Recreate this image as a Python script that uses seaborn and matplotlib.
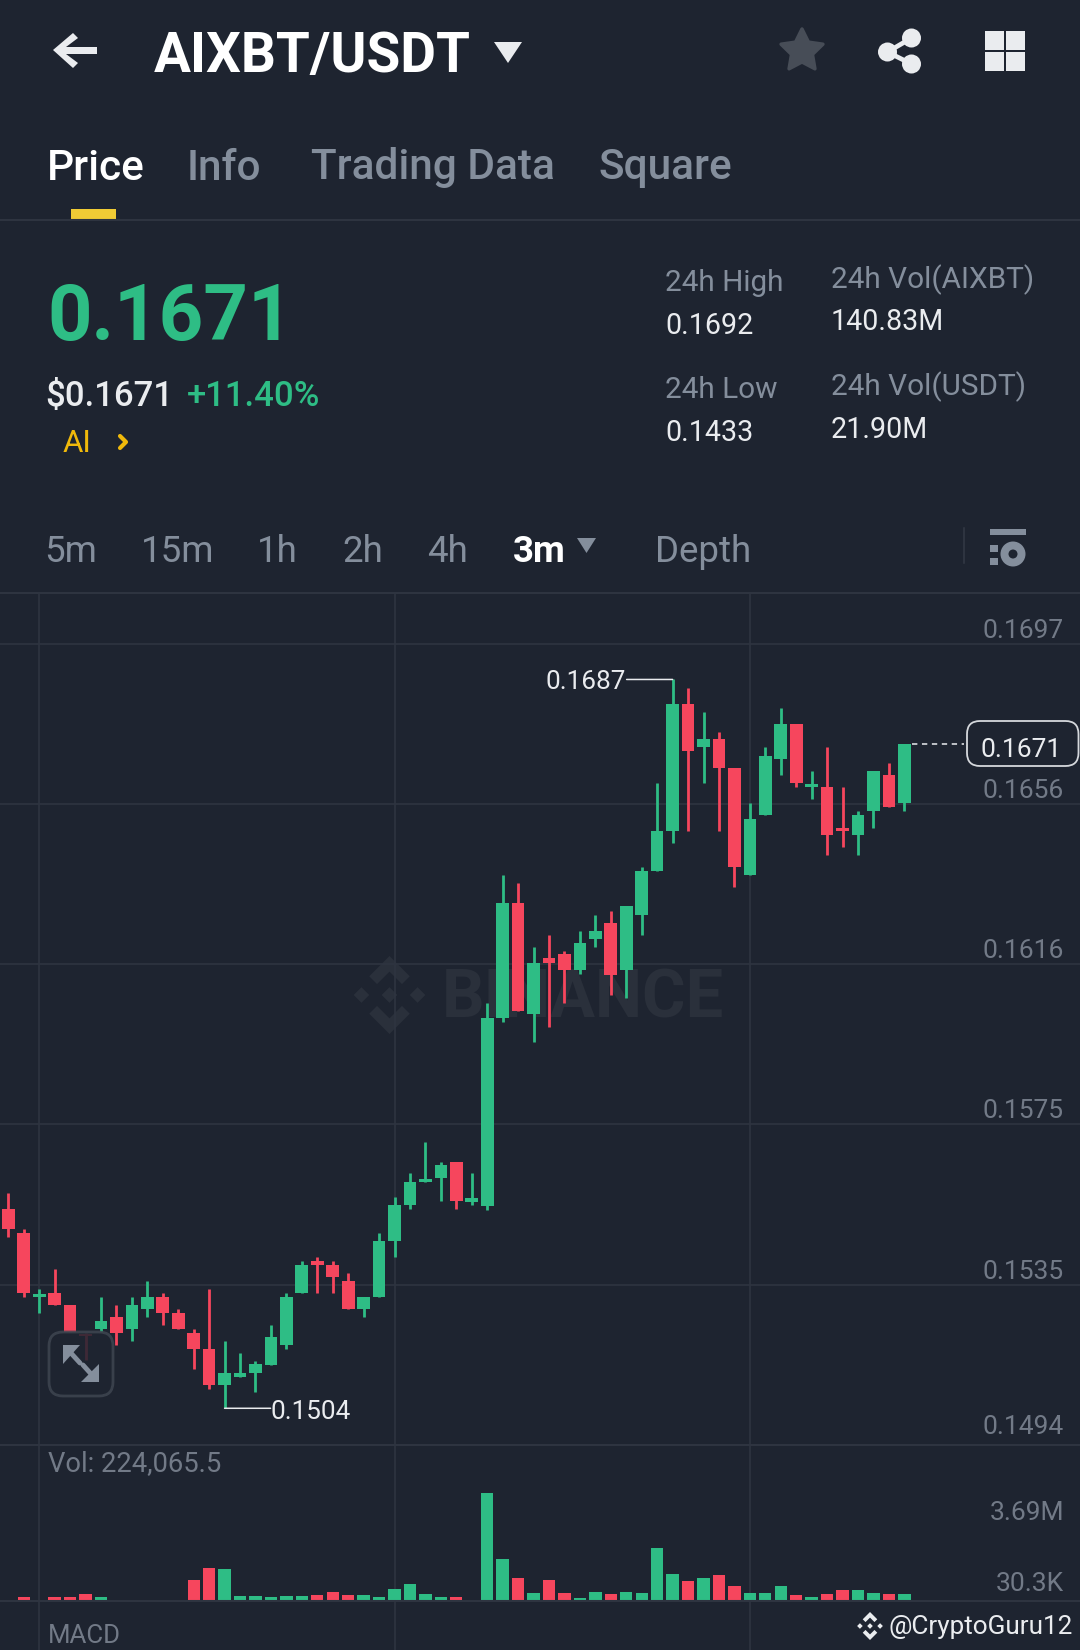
import numpy as np
import pandas as pd
import seaborn as sns
import matplotlib.pyplot as plt
from matplotlib.patches import Circle, FancyBboxPatch, Polygon, Rectangle

# candle values
opens = [0.15537, 0.15476, 0.15316, 0.15324, 0.15295, 0.15221, 0.15233, 0.15264, 0.15234, 0.15285,
         0.15314, 0.15275, 0.15224, 0.15183, 0.15092, 0.15113, 0.15123, 0.15143, 0.15194, 0.15324,
         0.15405, 0.15395, 0.15356, 0.15285, 0.15315, 0.15456, 0.15547, 0.15607, 0.15617, 0.15658,
         0.15556, 0.15545, 0.16021, 0.16314, 0.16031, 0.16173, 0.16183, 0.16142, 0.16222, 0.16263,
         0.16142, 0.16283, 0.16395, 0.16495, 0.16817, 0.16707, 0.16727, 0.16656, 0.16384, 0.16536,
         0.16677, 0.16766, 0.16606, 0.16606, 0.16504, 0.16484, 0.16545, 0.16636, 0.16565]
closes = [0.15486, 0.15324, 0.15322, 0.15295, 0.15227, 0.15216, 0.15254, 0.15224, 0.15295, 0.15314,
          0.15275, 0.15234, 0.15183, 0.15092, 0.15123, 0.15123, 0.15144, 0.15214, 0.15315, 0.15395,
          0.15395, 0.15365, 0.15285, 0.15315, 0.15456, 0.15547, 0.15607, 0.15614, 0.15648, 0.15557,
          0.15565, 0.16021, 0.16314, 0.16040, 0.16162, 0.16162, 0.16142, 0.16212, 0.16243, 0.16131,
          0.16304, 0.16395, 0.16495, 0.16817, 0.16697, 0.16727, 0.16656, 0.16405, 0.16525, 0.16686,
          0.16766, 0.16616, 0.16613, 0.16484, 0.16494, 0.16535, 0.16646, 0.16555, 0.16716]
highs = [0.15578, 0.15486, 0.15334, 0.15385, 0.15295, 0.15223, 0.15314, 0.15295, 0.15314, 0.15356,
         0.15324, 0.15285, 0.15234, 0.15334, 0.15204, 0.15174, 0.15154, 0.15244, 0.15324, 0.15405,
         0.15416, 0.15405, 0.15375, 0.15315, 0.15476, 0.15567, 0.15628, 0.15708, 0.15658, 0.15658,
         0.15628, 0.16060, 0.16384, 0.16364, 0.16202, 0.16233, 0.16192, 0.16243, 0.16283, 0.16293,
         0.16304, 0.16403, 0.16616, 0.16879, 0.16857, 0.16797, 0.16747, 0.16656, 0.16565, 0.16707,
         0.16807, 0.16766, 0.16646, 0.16707, 0.16606, 0.16545, 0.16646, 0.16667, 0.16716]
lows = [0.15466, 0.15316, 0.15274, 0.15295, 0.15227, 0.15156, 0.15225, 0.15194, 0.15204, 0.15265,
        0.15244, 0.15234, 0.15133, 0.15083, 0.15033, 0.15113, 0.15073, 0.15143, 0.15183, 0.15324,
        0.15324, 0.15324, 0.15285, 0.15264, 0.15315, 0.15416, 0.15537, 0.15607, 0.15557, 0.15537,
        0.15548, 0.15535, 0.16011, 0.16040, 0.15960, 0.16000, 0.16060, 0.16132, 0.16202, 0.16081,
        0.16071, 0.16233, 0.16395, 0.16464, 0.16495, 0.16616, 0.16495, 0.16354, 0.16384, 0.16536,
        0.16636, 0.16606, 0.16575, 0.16434, 0.16455, 0.16434, 0.16504, 0.16555, 0.16545]
# volume in millions, 0 where the screenshot shows no bar
volumes = [0, 0.125, 0, 0.125, 0.136, 0.25, 0.136, 0, 0, 0,
           0, 0, 0.727, 1.124, 1.09, 0.17, 0.17, 0.148, 0.17, 0.17,
           0.193, 0.318, 0.204, 0.204, 0.148, 0.409, 0.568, 0.227, 0.125, 0.148,
           0, 3.69, 1.42, 0.772, 0.284, 0.727, 0.261, 0.114, 0.307, 0.238,
           0.295, 0.272, 1.817, 0.92, 0.681, 0.783, 0.886, 0.511, 0.261, 0.261,
           0.511, 0.216, 0.148, 0.238, 0.363, 0.375, 0.272, 0.25, 0.238]

price_ticks = [0.1697, 0.16564, 0.16158, 0.15752, 0.15346, 0.1494]
price_labels = ["0.1697", "0.1656", "0.1616", "0.1575", "0.1535", "0.1494"]
grid_candles = [2, 25, 48]

tabs = ["Price", "Info", "Trading Data", "Square"]
periods = ["5m", "15m", "1h", "2h", "4h", "3m", "Depth"]

BG = "#1E2430"
GRID = "#2E3440"
GREEN = "#2EBD85"
RED = "#F6465D"
GREY = "#848E9C"
AXIS_GREY = "#727A87"
WHITE = "#EAECEF"
GOLD = "#F0B90B"

df = pd.DataFrame({"candle": range(len(opens)), "open": opens, "close": closes,
                   "high": highs, "low": lows, "volume": volumes})
df["up"] = df["close"] >= df["open"]
df["bottom"] = df[["open", "close"]].min(axis=1)
df["body"] = (df["close"] - df["open"]).abs()
wicks = df.melt(id_vars=["candle", "up"], value_vars=["high", "low"], value_name="price")

sns.set_theme(style="dark")
plt.rcParams["font.family"] = ["Roboto", "DejaVu Sans"]
plt.rcParams["figure.facecolor"] = BG

fig = plt.figure(figsize=(10.8, 16.5), dpi=100)


def band(top, bottom, zorder):
    a = fig.add_axes([0, 1 - bottom / 1650, 1, (bottom - top) / 1650], zorder=zorder)
    a.set_facecolor("none")
    return a


def pixel_axes(zorder):
    a = fig.add_axes([0, 0, 1, 1], zorder=zorder)
    a.set_xlim(0, 1080)
    a.set_ylim(1650, 0)
    a.axis("off")
    return a


def logo(a, cx, cy, s, color):
    # the diamond mark: centre, two side diamonds, two chevrons
    for dx, dy, r in [(0, 0, 0.2), (-0.72, 0, 0.2), (0.72, 0, 0.2)]:
        a.add_patch(Polygon([(cx + (dx + r) * s, cy + dy * s), (cx + dx * s, cy + (dy + r) * s),
                             (cx + (dx - r) * s, cy + dy * s), (cx + dx * s, cy + (dy - r) * s)],
                            color=color, lw=0))
    for sign in (-1, 1):
        a.add_patch(Polygon([(cx, cy + sign * s), (cx + 0.52 * s, cy + sign * 0.48 * s),
                             (cx + 0.32 * s, cy + sign * 0.28 * s), (cx, cy + sign * 0.6 * s),
                             (cx - 0.32 * s, cy + sign * 0.28 * s), (cx - 0.52 * s, cy + sign * 0.48 * s)],
                            color=color, lw=0))


back = pixel_axes(0)
front = pixel_axes(3)
ax = band(593, 1445, 1)
vol_ax = band(1445, 1601, 1)
macd_ax = band(1601, 1650, 1)

# candles
for is_up, color in [(True, GREEN), (False, RED)]:
    sns.lineplot(data=wicks[wicks["up"] == is_up], x="candle", y="price", units="candle",
                 estimator=None, sort=False, color=color, lw=2.0, solid_capstyle="butt",
                 legend=False, ax=ax)
    part = df[df["up"] == is_up]
    sns.barplot(data=part, x="candle", y="body", bottom=part["bottom"], native_scale=True,
                color=color, saturation=1, width=0.82, errorbar=None, linewidth=0, ax=ax)

sns.barplot(data=df, x="candle", y="volume", hue="up", palette={True: GREEN, False: RED},
            dodge=False, native_scale=True, saturation=1, width=0.8, errorbar=None,
            linewidth=0, legend=False, ax=vol_ax)

xlim = (-0.537, 69.37)
for a in (ax, vol_ax, macd_ax):
    a.set_xlim(*xlim)
    a.set_xticks(grid_candles)
    a.set_xlabel("")
    a.set_ylabel("")
    a.set_axisbelow(True)
    a.grid(True, color=GRID, lw=1.2)
    a.tick_params(length=0, labelbottom=False, labelleft=False)
    for spine in a.spines.values():
        spine.set_visible(False)
    a.spines["top"].set_visible(True)
    a.spines["top"].set_color(GRID)
    a.spines["top"].set_linewidth(1.5)
ax.set_ylim(0.14940, 0.17098)
ax.set_yticks(price_ticks)
vol_ax.set_ylim(0, 5.31)
vol_ax.set_yticks([])
macd_ax.set_yticks([])

for i, (tick, label) in enumerate(zip(price_ticks, price_labels)):
    ax.annotate(label, xy=(1, tick), xycoords=("axes fraction", "data"),
                xytext=(-16 * 0.72, (17.5 if i == 5 else 13) * 0.72),
                textcoords="offset points", ha="right", va="center", color=AXIS_GREY, fontsize=19)

# high and low callouts, the leader stays level and the text sits a little lower
high_at = df["high"].idxmax()
low_at = df["low"].idxmin()
ax.annotate("", xy=(high_at, df["high"][high_at]), xytext=(-46 * 0.72, 0), textcoords="offset points",
            arrowprops=dict(arrowstyle="-", color=WHITE, lw=1.1, shrinkA=0, shrinkB=0))
ax.annotate("0.1687", xy=(high_at, df["high"][high_at]), xytext=(-47 * 0.72, -1.5), textcoords="offset points",
            ha="right", va="center", color=WHITE, fontsize=18.8)
ax.annotate("", xy=(low_at, df["low"][low_at]), xytext=(46 * 0.72, 0), textcoords="offset points",
            arrowprops=dict(arrowstyle="-", color=WHITE, lw=1.1, shrinkA=0, shrinkB=0))
ax.annotate("0.1504", xy=(low_at, df["low"][low_at]), xytext=(46 * 0.72, -2.5), textcoords="offset points",
            ha="left", va="center", color=WHITE, fontsize=18.8)

# current price tag
last = closes[-1]
ax.plot([len(closes) - 0.5, 61.85], [last, last], color=WHITE, lw=1.1, ls=(0, (3.5, 3)))
front.add_patch(FancyBboxPatch((967, 721), 111.5, 45, boxstyle="round,pad=0,rounding_size=13",
                               fc=BG, ec="#D5D8DC", lw=1.3))
front.text(1021, 750, "0.1671", color=WHITE, fontsize=19, ha="center", va="center")

# watermark behind the chart
logo(back, 389.5, 995, 39, "#2A303B")
back.text(442, 1000, "BINANCE", color="#2A303B", fontsize=48, fontweight="bold", va="center", ha="left")

# header
back.add_patch(Polygon([(53, 50), (73, 33), (78, 38), (66, 47), (97, 47), (97, 54), (66, 54), (78, 63), (73, 68)],
                       color=WHITE, lw=0))
back.text(154, 57, "AIXBT/USDT", color="white", fontsize=39.5, fontweight="bold", ha="left", va="center")
back.add_patch(Polygon([(494, 42), (522, 42), (508, 63)], color=WHITE, lw=0))
star_angle = np.pi / 2 + np.arange(10) * np.pi / 5
star_r = np.where(np.arange(10) % 2 == 0, 22, 11)
back.add_patch(Polygon(np.column_stack([802 + star_r * np.cos(star_angle), 51 - star_r * np.sin(star_angle)]),
                       fc="#474D57", ec="#474D57", lw=2.5, joinstyle="round"))
back.plot([911.5, 887.5, 911.5], [38, 52, 64], color=WHITE, lw=3.4)
for cx, cy in [(911.5, 38), (887.5, 52), (911.5, 64)]:
    back.add_patch(Circle((cx, cy), 9.5, color=WHITE, lw=0))
for x0 in (985, 1006):
    for y0 in (31, 52):
        back.add_patch(Rectangle((x0, y0), 19, 19, color=WHITE, lw=0))

for label, x, color in zip(tabs, [47, 187, 311, 599], ["white", GREY, GREY, GREY]):
    back.text(x, 168, label, color=color, fontsize=30.5, fontweight="medium", ha="left", va="center")
back.add_patch(Rectangle((71, 209), 45, 10, color="#F0CB35", lw=0))
back.plot([0, 1080], [220, 220], color=GRID, lw=1.5)

# price block
back.text(47, 319, "0.1671", color=GREEN, fontsize=56, fontweight="bold", ha="left", va="center")
back.text(45, 397, "$0.1671", color=WHITE, fontsize=25, fontweight="medium", ha="left", va="center")
back.text(187, 397, "+11.40%", color=GREEN, fontsize=25, fontweight="medium", ha="left", va="center")
back.text(63, 443, "AI", color=GOLD, fontsize=22.5, ha="left", va="center")
back.plot([120, 126, 120], [436, 442, 448], color=GOLD, lw=3)

for label, x, y, color, size in [("24h High", 665, 283, GREY, 21.4), ("0.1692", 665, 326, WHITE, 20.6),
                                 ("24h Vol(AIXBT)", 831, 280, GREY, 21.4), ("140.83M", 831, 322, WHITE, 20.6),
                                 ("24h Low", 665, 390, GREY, 21.4), ("0.1433", 665, 433, WHITE, 20.6),
                                 ("24h Vol(USDT)", 831, 387, GREY, 21.4), ("21.90M", 831, 430, WHITE, 20.6)]:
    back.text(x, y, label, color=color, fontsize=size, ha="left", va="center")

# interval row
for label, x in zip(periods, [44, 141, 257, 342, 427, 513, 655]):
    on = label == "3m"
    back.text(x, 552, label, color="white" if on else GREY, fontsize=26.5,
              fontweight="bold" if on else "normal", ha="left", va="center")
back.add_patch(Polygon([(577, 538), (596, 538), (586.5, 553)], color=GREY, lw=0))
back.plot([964, 964], [528, 563], color=GRID, lw=1.5)
back.add_patch(Rectangle((990, 529), 36, 6, color=GREY, lw=0))
back.add_patch(Rectangle((990, 545), 8, 7, color=GREY, lw=0))
back.add_patch(Rectangle((990, 558), 8, 7, color=GREY, lw=0))
back.add_patch(Circle((1013, 554), 12.5, color=GREY, lw=0))
back.add_patch(Circle((1013, 554), 4.5, color=BG, lw=0))

# volume and macd text
back.text(48, 1464, "Vol: 224,065.5", color=AXIS_GREY, fontsize=19.7, ha="left", va="center")
back.text(1064, 1513, "3.69M", color=AXIS_GREY, fontsize=19, ha="right", va="center")
back.text(1064, 1584, "30.3K", color=AXIS_GREY, fontsize=19, ha="right", va="center")
back.text(48, 1636, "MACD", color=AXIS_GREY, fontsize=18.6, ha="left", va="center")

# expand button over the candles
front.add_patch(FancyBboxPatch((49, 1332), 64, 64, boxstyle="round,pad=0,rounding_size=14",
                               fc=BG, alpha=0.85, ec="#3F4651", lw=2))
front.add_patch(Polygon([(63, 1345), (80, 1345), (63, 1364)], color=GREY, lw=0))
front.add_patch(Polygon([(99, 1382), (81, 1382), (99, 1364)], color=GREY, lw=0))
front.plot([70, 80], [1352, 1363], color=GREY, lw=3.5)
front.plot([92, 83], [1375, 1365], color=GREY, lw=3.5)

# account stamp
logo(front, 870, 1626, 14, WHITE)
front.text(888, 1627, "@CryptoGuru12", color=WHITE, fontsize=18.8, ha="left", va="center")

fig.savefig("out.png", dpi=100, facecolor=BG)
